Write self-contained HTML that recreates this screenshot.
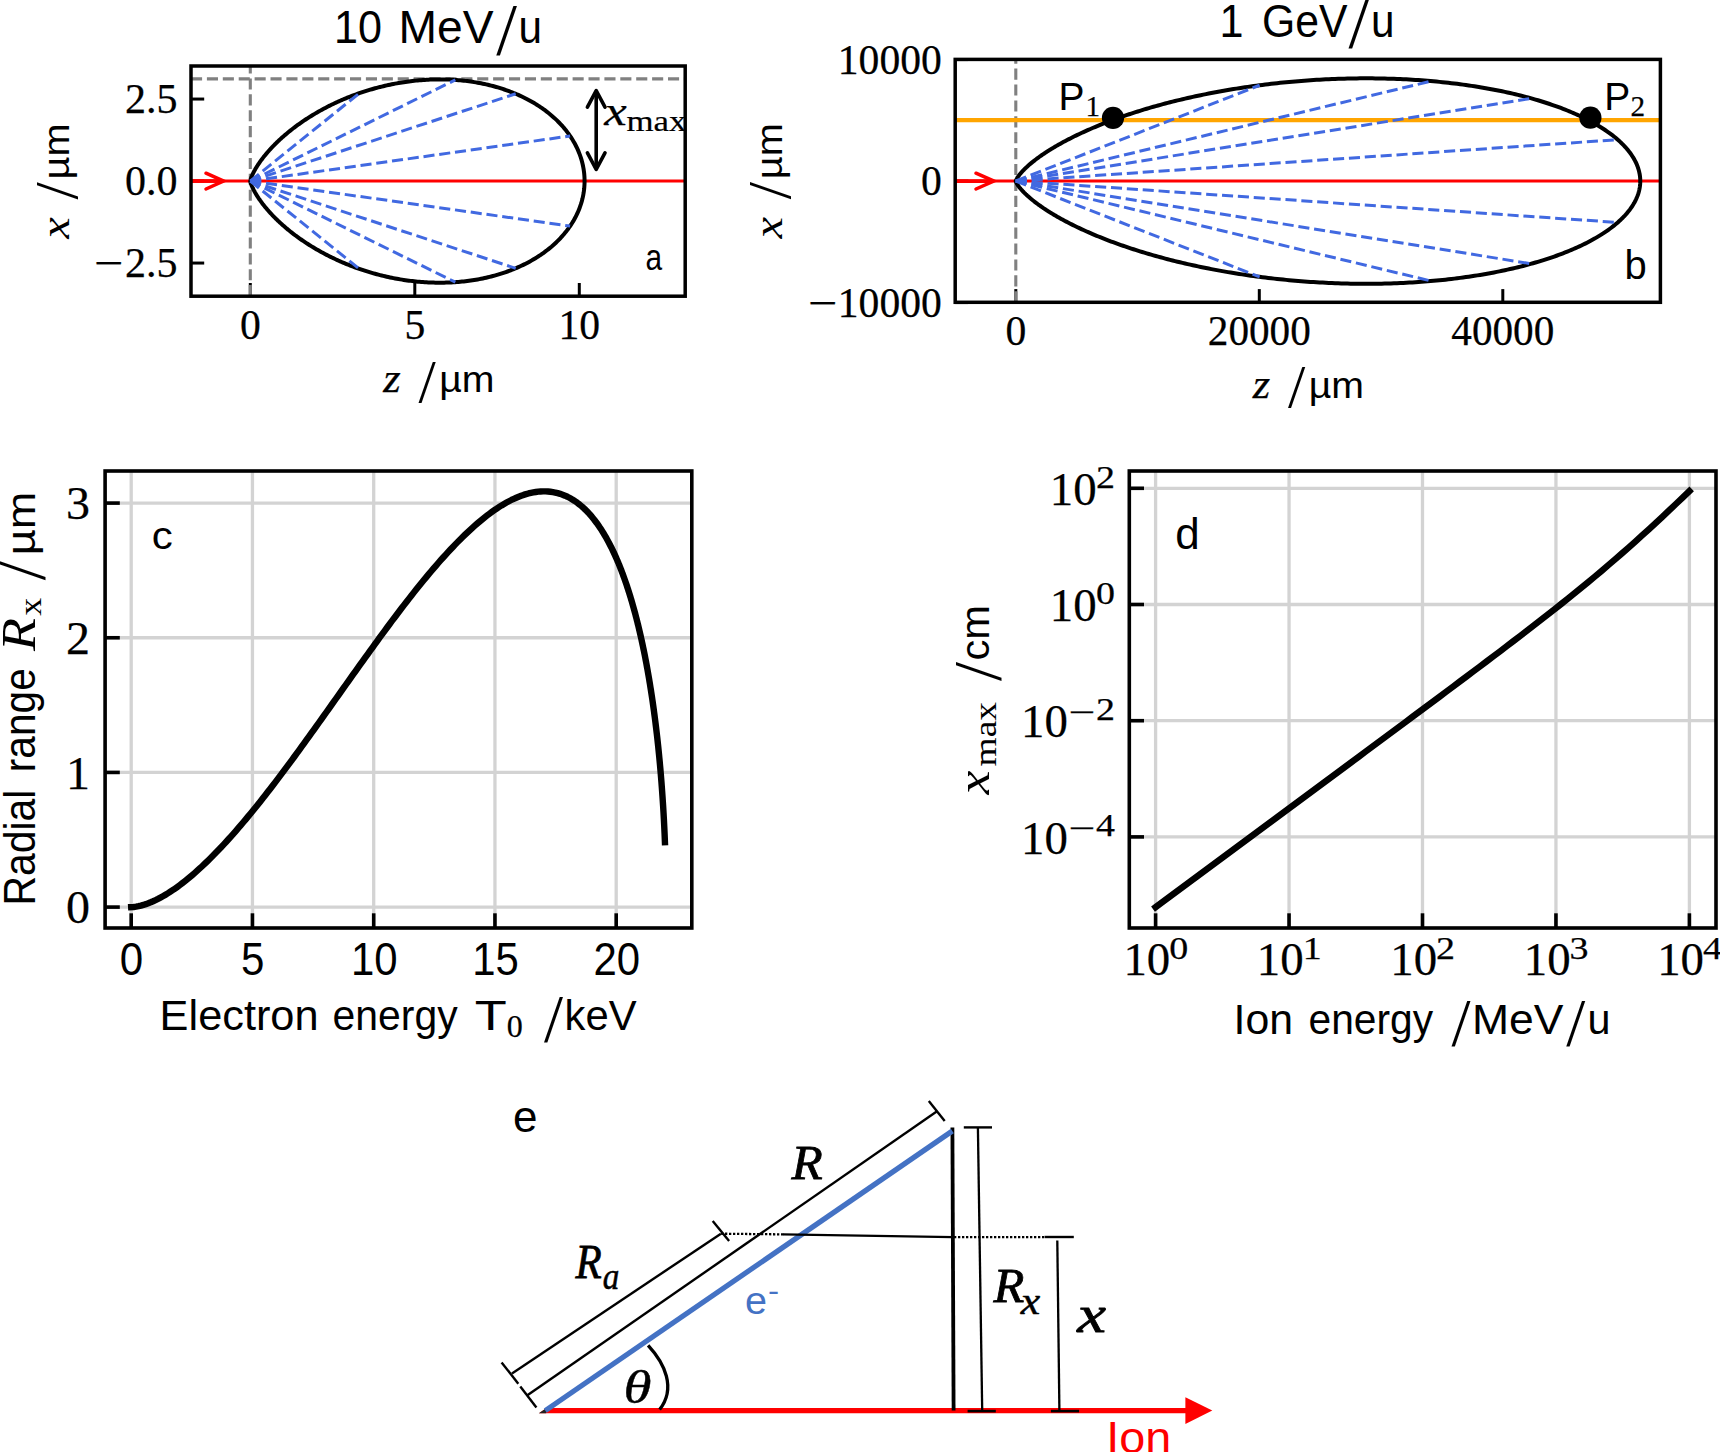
<!DOCTYPE html>
<html lang="en"><head><meta charset="utf-8"><title>Electron range envelope figure</title>
<style>html,body{margin:0;padding:0;background:#fff}svg{display:block}</style></head>
<body>
<svg width="1720" height="1452" viewBox="0 0 1720 1452">
<rect x="0" y="0" width="1720" height="1452" fill="#fff"/>
<g id="pa">
<line x1="191" y1="99.05" x2="204.2" y2="99.05" stroke="#000" stroke-width="3"/>
<line x1="191" y1="181.05" x2="204.2" y2="181.05" stroke="#000" stroke-width="3"/>
<line x1="191" y1="263.05" x2="204.2" y2="263.05" stroke="#000" stroke-width="3"/>
<line x1="250.3" y1="296.2" x2="250.3" y2="283" stroke="#000" stroke-width="3"/>
<line x1="414.8" y1="296.2" x2="414.8" y2="283" stroke="#000" stroke-width="3"/>
<line x1="579.3" y1="296.2" x2="579.3" y2="283" stroke="#000" stroke-width="3"/>
<line x1="250.3" y1="296.2" x2="250.3" y2="66" stroke="#808080" stroke-width="3.1" stroke-dasharray="11.1 4.8"/>
<line x1="191" y1="78.9" x2="685.2" y2="78.9" stroke="#808080" stroke-width="3.1" stroke-dasharray="11.1 4.8"/>
<line x1="191" y1="181.05" x2="685.2" y2="181.05" stroke="#FF0000" stroke-width="3.1"/>
<line x1="191" y1="181.05" x2="222" y2="181.05" stroke="#FF0000" stroke-width="3.8"/>
<path d="M206 173.2 L223.6 181.05 L206 189" fill="none" stroke="#FF0000" stroke-width="3.5" stroke-linejoin="miter" stroke-linecap="round"/>
<path d="M250.3 181.05 L250.3 181.05 L250.3 181.05 L250.3 181.05 L250.3 181.05 L250.3 181.05 L250.3 181.05 L250.3 181.05 L250.3 181.05 L250.3 181.05 L250.3 181.04 L250.3 181.04 L250.3 181.04 L250.3 181.04 L250.3 181.03 L250.3 181.03 L250.3 181.02 L250.3 181.02 L250.3 181.01 L250.3 181 L250.3 180.99 L250.31 180.98 L250.31 180.97 L250.31 180.96 L250.31 180.94 L250.31 180.93 L250.31 180.91 L250.32 180.89 L250.32 180.87 L250.32 180.84 L250.33 180.82 L250.33 180.79 L250.34 180.76 L250.34 180.73 L250.35 180.7 L250.35 180.66 L250.36 180.63 L250.37 180.58 L250.38 180.54 L250.39 180.49 L250.4 180.45 L250.41 180.39 L250.42 180.34 L250.43 180.28 L250.45 180.22 L250.46 180.15 L250.48 180.09 L250.5 180.01 L250.52 179.94 L250.54 179.86 L250.56 179.78 L250.58 179.69 L250.6 179.6 L250.63 179.51 L250.66 179.41 L250.69 179.31 L250.72 179.2 L250.75 179.09 L250.79 178.97 L250.83 178.85 L250.87 178.73 L250.91 178.6 L250.95 178.47 L251 178.33 L251.05 178.18 L251.1 178.03 L251.15 177.88 L251.21 177.72 L251.27 177.56 L251.33 177.39 L251.4 177.21 L251.47 177.03 L251.54 176.85 L251.62 176.66 L251.69 176.46 L251.78 176.26 L251.86 176.05 L251.95 175.84 L252.05 175.62 L252.14 175.39 L252.24 175.16 L252.35 174.93 L252.46 174.68 L252.57 174.43 L252.69 174.18 L252.81 173.92 L252.94 173.65 L253.07 173.37 L253.21 173.09 L253.35 172.81 L253.5 172.51 L253.65 172.21 L253.81 171.91 L253.97 171.6 L254.14 171.28 L254.32 170.95 L254.5 170.62 L254.68 170.28 L254.88 169.94 L255.07 169.59 L255.28 169.23 L255.49 168.86 L255.71 168.49 L255.93 168.11 L256.16 167.73 L256.4 167.34 L256.64 166.94 L256.89 166.54 L257.15 166.13 L257.42 165.71 L257.69 165.29 L257.97 164.86 L258.26 164.42 L258.55 163.97 L258.86 163.52 L259.17 163.07 L259.49 162.61 L259.82 162.14 L260.15 161.66 L260.5 161.18 L260.85 160.69 L261.21 160.19 L261.58 159.69 L261.96 159.19 L262.35 158.67 L262.74 158.15 L263.15 157.63 L263.57 157.1 L263.99 156.56 L264.43 156.02 L264.87 155.47 L265.32 154.91 L265.79 154.35 L266.26 153.78 L266.74 153.21 L267.24 152.63 L267.74 152.05 L268.25 151.46 L268.78 150.87 L269.31 150.27 L269.86 149.67 L270.41 149.06 L270.98 148.45 L271.56 147.83 L272.14 147.2 L272.74 146.58 L273.35 145.94 L273.98 145.31 L274.61 144.67 L275.25 144.02 L275.91 143.37 L276.57 142.72 L277.25 142.06 L277.94 141.4 L278.64 140.73 L279.35 140.07 L280.08 139.39 L280.81 138.72 L281.56 138.04 L282.32 137.36 L283.09 136.67 L283.88 135.99 L284.67 135.3 L285.48 134.61 L286.3 133.91 L287.14 133.21 L287.98 132.51 L288.84 131.81 L289.71 131.11 L290.59 130.41 L291.48 129.7 L292.39 128.99 L293.31 128.28 L294.24 127.57 L295.18 126.86 L296.14 126.15 L297.11 125.44 L298.09 124.73 L299.08 124.01 L300.09 123.3 L301.1 122.59 L302.14 121.87 L303.18 121.16 L304.23 120.45 L305.3 119.74 L306.38 119.03 L307.48 118.32 L308.58 117.61 L309.7 116.9 L310.83 116.19 L311.97 115.49 L313.13 114.79 L314.29 114.09 L315.47 113.39 L316.67 112.69 L317.87 112 L319.09 111.31 L320.31 110.62 L321.55 109.93 L322.81 109.25 L324.07 108.57 L325.34 107.9 L326.63 107.23 L327.93 106.56 L329.24 105.9 L330.56 105.24 L331.9 104.58 L333.24 103.93 L334.6 103.29 L335.97 102.65 L337.35 102.01 L338.74 101.38 L340.14 100.76 L341.55 100.14 L342.97 99.52 L344.4 98.92 L345.85 98.32 L347.3 97.72 L348.77 97.13 L350.24 96.55 L351.73 95.98 L353.22 95.41 L354.73 94.85 L356.24 94.3 L357.76 93.75 L359.3 93.22 L360.84 92.69 L362.39 92.16 L363.95 91.65 L365.52 91.15 L367.1 90.65 L368.69 90.16 L370.28 89.68 L371.89 89.21 L373.5 88.75 L375.12 88.3 L376.75 87.86 L378.38 87.42 L380.02 87 L381.67 86.59 L383.33 86.19 L385 85.79 L386.67 85.41 L388.34 85.04 L390.03 84.68 L391.72 84.33 L393.41 83.99 L395.12 83.66 L396.82 83.35 L398.54 83.04 L400.25 82.75 L401.98 82.46 L403.7 82.19 L405.44 81.93 L407.17 81.69 L408.92 81.45 L410.66 81.23 L412.41 81.02 L414.16 80.82 L415.92 80.63 L417.68 80.46 L419.44 80.3 L421.2 80.15 L422.97 80.02 L424.74 79.9 L426.51 79.79 L428.28 79.69 L430.06 79.61 L431.83 79.54 L433.61 79.49 L435.39 79.45 L437.16 79.42 L438.94 79.4 L440.72 79.4 L442.5 79.42 L444.28 79.45 L446.05 79.49 L447.83 79.54 L449.6 79.61 L451.38 79.7 L453.15 79.79 L454.92 79.91 L456.69 80.03 L458.46 80.17 L460.22 80.33 L461.98 80.5 L463.74 80.68 L465.49 80.88 L467.24 81.1 L468.99 81.32 L470.73 81.57 L472.47 81.82 L474.2 82.1 L475.93 82.38 L477.65 82.68 L479.37 83 L481.08 83.33 L482.79 83.67 L484.49 84.03 L486.18 84.41 L487.87 84.8 L489.55 85.2 L491.22 85.62 L492.89 86.05 L494.54 86.5 L496.19 86.96 L497.83 87.44 L499.47 87.93 L501.09 88.43 L502.71 88.95 L504.31 89.48 L505.91 90.03 L507.49 90.6 L509.07 91.17 L510.64 91.76 L512.19 92.37 L513.74 92.99 L515.27 93.62 L516.8 94.26 L518.31 94.93 L519.81 95.6 L521.3 96.29 L522.77 96.99 L524.24 97.7 L525.69 98.43 L527.13 99.17 L528.55 99.93 L529.96 100.7 L531.36 101.48 L532.74 102.27 L534.11 103.08 L535.47 103.9 L536.81 104.73 L538.14 105.57 L539.45 106.43 L540.75 107.3 L542.03 108.18 L543.3 109.07 L544.55 109.98 L545.78 110.9 L547 111.82 L548.2 112.76 L549.39 113.72 L550.55 114.68 L551.71 115.65 L552.84 116.64 L553.96 117.63 L555.06 118.64 L556.14 119.65 L557.2 120.68 L558.25 121.72 L559.28 122.76 L560.29 123.82 L561.28 124.89 L562.25 125.96 L563.21 127.05 L564.14 128.14 L565.05 129.24 L565.95 130.35 L566.83 131.47 L567.68 132.6 L568.52 133.74 L569.34 134.88 L570.13 136.04 L570.91 137.2 L571.67 138.37 L572.4 139.54 L573.12 140.72 L573.81 141.91 L574.49 143.11 L575.14 144.31 L575.77 145.52 L576.38 146.73 L576.97 147.95 L577.54 149.18 L578.08 150.41 L578.61 151.65 L579.11 152.89 L579.59 154.14 L580.05 155.39 L580.49 156.64 L580.91 157.9 L581.3 159.17 L581.67 160.43 L582.02 161.71 L582.35 162.98 L582.65 164.26 L582.93 165.54 L583.19 166.82 L583.43 168.11 L583.65 169.4 L583.84 170.69 L584.01 171.98 L584.16 173.27 L584.28 174.56 L584.38 175.86 L584.46 177.16 L584.52 178.45 L584.55 179.75 L584.56 181.05 L584.55 182.35 L584.52 183.65 L584.46 184.94 L584.38 186.24 L584.28 187.54 L584.16 188.83 L584.01 190.12 L583.84 191.41 L583.65 192.7 L583.43 193.99 L583.19 195.28 L582.93 196.56 L582.65 197.84 L582.35 199.12 L582.02 200.39 L581.67 201.67 L581.3 202.93 L580.91 204.2 L580.49 205.46 L580.05 206.71 L579.59 207.96 L579.11 209.21 L578.61 210.45 L578.08 211.69 L577.54 212.92 L576.97 214.15 L576.38 215.37 L575.77 216.58 L575.14 217.79 L574.49 218.99 L573.81 220.19 L573.12 221.38 L572.4 222.56 L571.67 223.73 L570.91 224.9 L570.13 226.06 L569.34 227.22 L568.52 228.36 L567.68 229.5 L566.83 230.63 L565.95 231.75 L565.05 232.86 L564.14 233.96 L563.21 235.05 L562.25 236.14 L561.28 237.21 L560.29 238.28 L559.28 239.34 L558.25 240.38 L557.2 241.42 L556.14 242.45 L555.06 243.46 L553.96 244.47 L552.84 245.46 L551.71 246.45 L550.55 247.42 L549.39 248.38 L548.2 249.34 L547 250.28 L545.78 251.2 L544.55 252.12 L543.3 253.03 L542.03 253.92 L540.75 254.8 L539.45 255.67 L538.14 256.53 L536.81 257.37 L535.47 258.2 L534.11 259.02 L532.74 259.83 L531.36 260.62 L529.96 261.4 L528.55 262.17 L527.13 262.93 L525.69 263.67 L524.24 264.4 L522.77 265.11 L521.3 265.81 L519.81 266.5 L518.31 267.17 L516.8 267.84 L515.27 268.48 L513.74 269.11 L512.19 269.73 L510.64 270.34 L509.07 270.93 L507.49 271.5 L505.91 272.07 L504.31 272.62 L502.71 273.15 L501.09 273.67 L499.47 274.17 L497.83 274.66 L496.19 275.14 L494.54 275.6 L492.89 276.05 L491.22 276.48 L489.55 276.9 L487.87 277.3 L486.18 277.69 L484.49 278.07 L482.79 278.43 L481.08 278.77 L479.37 279.1 L477.65 279.42 L475.93 279.72 L474.2 280 L472.47 280.28 L470.73 280.53 L468.99 280.78 L467.24 281 L465.49 281.22 L463.74 281.42 L461.98 281.6 L460.22 281.77 L458.46 281.93 L456.69 282.07 L454.92 282.19 L453.15 282.31 L451.38 282.4 L449.6 282.49 L447.83 282.56 L446.05 282.61 L444.28 282.65 L442.5 282.68 L440.72 282.7 L438.94 282.7 L437.16 282.68 L435.39 282.65 L433.61 282.61 L431.83 282.56 L430.06 282.49 L428.28 282.41 L426.51 282.31 L424.74 282.2 L422.97 282.08 L421.2 281.95 L419.44 281.8 L417.68 281.64 L415.92 281.47 L414.16 281.28 L412.41 281.08 L410.66 280.87 L408.92 280.65 L407.17 280.41 L405.44 280.17 L403.7 279.91 L401.98 279.64 L400.25 279.35 L398.54 279.06 L396.82 278.75 L395.12 278.44 L393.41 278.11 L391.72 277.77 L390.03 277.42 L388.34 277.06 L386.67 276.69 L385 276.31 L383.33 275.91 L381.67 275.51 L380.02 275.1 L378.38 274.68 L376.75 274.24 L375.12 273.8 L373.5 273.35 L371.89 272.89 L370.28 272.42 L368.69 271.94 L367.1 271.45 L365.52 270.95 L363.95 270.45 L362.39 269.94 L360.84 269.41 L359.3 268.88 L357.76 268.35 L356.24 267.8 L354.73 267.25 L353.22 266.69 L351.73 266.12 L350.24 265.55 L348.77 264.97 L347.3 264.38 L345.85 263.78 L344.4 263.18 L342.97 262.58 L341.55 261.96 L340.14 261.34 L338.74 260.72 L337.35 260.09 L335.97 259.45 L334.6 258.81 L333.24 258.17 L331.9 257.52 L330.56 256.86 L329.24 256.2 L327.93 255.54 L326.63 254.87 L325.34 254.2 L324.07 253.53 L322.81 252.85 L321.55 252.17 L320.31 251.48 L319.09 250.79 L317.87 250.1 L316.67 249.41 L315.47 248.71 L314.29 248.01 L313.13 247.31 L311.97 246.61 L310.83 245.91 L309.7 245.2 L308.58 244.49 L307.48 243.78 L306.38 243.07 L305.3 242.36 L304.23 241.65 L303.18 240.94 L302.14 240.23 L301.1 239.51 L300.09 238.8 L299.08 238.09 L298.09 237.37 L297.11 236.66 L296.14 235.95 L295.18 235.24 L294.24 234.53 L293.31 233.82 L292.39 233.11 L291.48 232.4 L290.59 231.69 L289.71 230.99 L288.84 230.29 L287.98 229.59 L287.14 228.89 L286.3 228.19 L285.48 227.49 L284.67 226.8 L283.88 226.11 L283.09 225.43 L282.32 224.74 L281.56 224.06 L280.81 223.38 L280.08 222.71 L279.35 222.03 L278.64 221.37 L277.94 220.7 L277.25 220.04 L276.57 219.38 L275.91 218.73 L275.25 218.08 L274.61 217.43 L273.98 216.79 L273.35 216.16 L272.74 215.52 L272.14 214.9 L271.56 214.27 L270.98 213.65 L270.41 213.04 L269.86 212.43 L269.31 211.83 L268.78 211.23 L268.25 210.64 L267.74 210.05 L267.24 209.47 L266.74 208.89 L266.26 208.32 L265.79 207.75 L265.32 207.19 L264.87 206.63 L264.43 206.08 L263.99 205.54 L263.57 205 L263.15 204.47 L262.74 203.95 L262.35 203.43 L261.96 202.91 L261.58 202.41 L261.21 201.91 L260.85 201.41 L260.5 200.92 L260.15 200.44 L259.82 199.96 L259.49 199.49 L259.17 199.03 L258.86 198.58 L258.55 198.13 L258.26 197.68 L257.97 197.24 L257.69 196.81 L257.42 196.39 L257.15 195.97 L256.89 195.56 L256.64 195.16 L256.4 194.76 L256.16 194.37 L255.93 193.99 L255.71 193.61 L255.49 193.24 L255.28 192.87 L255.07 192.51 L254.88 192.16 L254.68 191.82 L254.5 191.48 L254.32 191.15 L254.14 190.82 L253.97 190.5 L253.81 190.19 L253.65 189.89 L253.5 189.59 L253.35 189.29 L253.21 189.01 L253.07 188.73 L252.94 188.45 L252.81 188.18 L252.69 187.92 L252.57 187.67 L252.46 187.42 L252.35 187.17 L252.24 186.94 L252.14 186.71 L252.05 186.48 L251.95 186.26 L251.86 186.05 L251.78 185.84 L251.69 185.64 L251.62 185.44 L251.54 185.25 L251.47 185.07 L251.4 184.89 L251.33 184.71 L251.27 184.54 L251.21 184.38 L251.15 184.22 L251.1 184.07 L251.05 183.92 L251 183.77 L250.95 183.63 L250.91 183.5 L250.87 183.37 L250.83 183.25 L250.79 183.13 L250.75 183.01 L250.72 182.9 L250.69 182.79 L250.66 182.69 L250.63 182.59 L250.6 182.5 L250.58 182.41 L250.56 182.32 L250.54 182.24 L250.52 182.16 L250.5 182.09 L250.48 182.01 L250.46 181.95 L250.45 181.88 L250.43 181.82 L250.42 181.76 L250.41 181.71 L250.4 181.65 L250.39 181.61 L250.38 181.56 L250.37 181.52 L250.36 181.47 L250.35 181.44 L250.35 181.4 L250.34 181.37 L250.34 181.34 L250.33 181.31 L250.33 181.28 L250.32 181.26 L250.32 181.23 L250.32 181.21 L250.31 181.19 L250.31 181.17 L250.31 181.16 L250.31 181.14 L250.31 181.13 L250.31 181.12 L250.3 181.11 L250.3 181.1 L250.3 181.09 L250.3 181.08 L250.3 181.08 L250.3 181.07 L250.3 181.07 L250.3 181.06 L250.3 181.06 L250.3 181.06 L250.3 181.06 L250.3 181.05 L250.3 181.05 L250.3 181.05 L250.3 181.05 L250.3 181.05 L250.3 181.05 L250.3 181.05 L250.3 181.05 L250.3 181.05 L250.3 181.05" fill="none" stroke="#000" stroke-width="4" stroke-linejoin="miter" stroke-linecap="butt"/>
<line x1="250.3" y1="181.05" x2="359.41" y2="93.18" stroke="#4169E1" stroke-width="3" stroke-dasharray="11.1 4.8"/>
<line x1="250.3" y1="181.05" x2="359.41" y2="268.92" stroke="#4169E1" stroke-width="3" stroke-dasharray="11.1 4.8"/>
<line x1="250.3" y1="181.05" x2="455.33" y2="79.93" stroke="#4169E1" stroke-width="3" stroke-dasharray="11.1 4.8"/>
<line x1="250.3" y1="181.05" x2="455.33" y2="282.17" stroke="#4169E1" stroke-width="3" stroke-dasharray="11.1 4.8"/>
<line x1="250.3" y1="181.05" x2="515.69" y2="93.79" stroke="#4169E1" stroke-width="3" stroke-dasharray="11.1 4.8"/>
<line x1="250.3" y1="181.05" x2="515.69" y2="268.31" stroke="#4169E1" stroke-width="3" stroke-dasharray="11.1 4.8"/>
<line x1="250.3" y1="181.05" x2="570.1" y2="135.99" stroke="#4169E1" stroke-width="3" stroke-dasharray="11.1 4.8"/>
<line x1="250.3" y1="181.05" x2="570.1" y2="226.11" stroke="#4169E1" stroke-width="3" stroke-dasharray="11.1 4.8"/>
<rect x="191" y="66" width="494.2" height="230.2" fill="none" stroke="#000" stroke-width="3.5"/>
<line x1="596.2" y1="92" x2="596.2" y2="168" stroke="#000" stroke-width="3.6"/>
<path d="M587.4 107.2 L596.2 90.6 L605 107.2" fill="none" stroke="#000" stroke-width="3.6" stroke-linejoin="round" stroke-linecap="round"/>
<path d="M587.4 152.8 L596.2 169.4 L605 152.8" fill="none" stroke="#000" stroke-width="3.6" stroke-linejoin="round" stroke-linecap="round"/>
<text x="604.2" y="124.7" font-family='"Liberation Serif", "DejaVu Serif", serif' font-size="41.67" font-style="italic" textLength="22.5" lengthAdjust="spacingAndGlyphs" stroke="#000" stroke-width="0.25">x</text>
<text x="626.5" y="130.8" font-family='"Liberation Serif", "DejaVu Serif", serif' font-size="29.17" textLength="60" lengthAdjust="spacingAndGlyphs" stroke="#000" stroke-width="0.2">max</text>
<text x="177.6" y="112.95" font-family='"Liberation Serif", "DejaVu Serif", serif' font-size="41.67" text-anchor="end" textLength="52.5" lengthAdjust="spacingAndGlyphs" stroke="#000" stroke-width="0.25">2.5</text>
<text x="177.6" y="194.95" font-family='"Liberation Serif", "DejaVu Serif", serif' font-size="41.67" text-anchor="end" textLength="52.5" lengthAdjust="spacingAndGlyphs" stroke="#000" stroke-width="0.25">0.0</text>
<text x="177.6" y="276.95" font-family='"Liberation Serif", "DejaVu Serif", serif' font-size="41.67" text-anchor="end" textLength="52.5" lengthAdjust="spacingAndGlyphs" stroke="#000" stroke-width="0.25">2.5</text>
<text x="94" y="277" font-family='"Liberation Serif", "DejaVu Serif", serif' font-size="41.67" textLength="29.4" lengthAdjust="spacingAndGlyphs" stroke="#000" stroke-width="0.25">−</text>
<text x="250.3" y="338.8" font-family='"Liberation Serif", "DejaVu Serif", serif' font-size="41.67" text-anchor="middle" stroke="#000" stroke-width="0.25">0</text>
<text x="414.8" y="338.8" font-family='"Liberation Serif", "DejaVu Serif", serif' font-size="41.67" text-anchor="middle" stroke="#000" stroke-width="0.25">5</text>
<text x="579.3" y="338.8" font-family='"Liberation Serif", "DejaVu Serif", serif' font-size="41.67" text-anchor="middle" stroke="#000" stroke-width="0.25">10</text>
<text x="333.9" y="43.1" font-family='"Liberation Sans", "DejaVu Sans", sans-serif' font-size="47" textLength="48" lengthAdjust="spacingAndGlyphs">10</text>
<text x="398.6" y="43.1" font-family='"Liberation Sans", "DejaVu Sans", sans-serif' font-size="47" textLength="95" lengthAdjust="spacingAndGlyphs">MeV</text>
<text x="496.2" y="54.85" font-family='"Liberation Serif", "DejaVu Serif", serif' font-size="74.5">/</text>
<text x="518.5" y="43.1" font-family='"Liberation Sans", "DejaVu Sans", sans-serif' font-size="47" textLength="23.5" lengthAdjust="spacingAndGlyphs">u</text>
<text x="383.3" y="392.3" font-family='"Liberation Serif", "DejaVu Serif", serif' font-size="41.67" font-style="italic" textLength="17.5" lengthAdjust="spacingAndGlyphs" stroke="#000" stroke-width="0.25">z</text>
<text x="418.6" y="402.09" font-family='"Liberation Serif", "DejaVu Serif", serif' font-size="62.09">/</text>
<text x="439.2" y="392.3" font-family='"Liberation Sans", "DejaVu Sans", sans-serif' font-size="36.5" textLength="55.3" lengthAdjust="spacingAndGlyphs">µm</text>
<text transform="translate(68.8 238.7) rotate(-90)" font-family='"Liberation Serif", "DejaVu Serif", serif' font-size="41.67" font-style="italic" textLength="21.5" lengthAdjust="spacingAndGlyphs">x</text>
<text transform="translate(77.19 199.4) rotate(-90)" font-family='"Liberation Serif", "DejaVu Serif", serif' font-size="62.09">/</text>
<text transform="translate(68.8 179.4) rotate(-90)" font-family='"Liberation Sans", "DejaVu Sans", sans-serif' font-size="36.5" textLength="56" lengthAdjust="spacingAndGlyphs">µm</text>
<text x="645.6" y="270.2" font-family='"Liberation Sans", "DejaVu Sans", sans-serif' font-size="36" textLength="16.6" lengthAdjust="spacingAndGlyphs">a</text>
</g>
<g id="pb">
<line x1="955.2" y1="59.56" x2="968.4" y2="59.56" stroke="#000" stroke-width="3"/>
<line x1="955.2" y1="181.06" x2="968.4" y2="181.06" stroke="#000" stroke-width="3"/>
<line x1="955.2" y1="302.56" x2="968.4" y2="302.56" stroke="#000" stroke-width="3"/>
<line x1="1015.8" y1="302.3" x2="1015.8" y2="289.1" stroke="#000" stroke-width="3"/>
<line x1="1259.3" y1="302.3" x2="1259.3" y2="289.1" stroke="#000" stroke-width="3"/>
<line x1="1502.8" y1="302.3" x2="1502.8" y2="289.1" stroke="#000" stroke-width="3"/>
<line x1="1015.8" y1="302.3" x2="1015.8" y2="59.4" stroke="#808080" stroke-width="3.1" stroke-dasharray="11.1 4.8"/>
<line x1="955.2" y1="120.1" x2="1660.4" y2="120.1" stroke="#FFA500" stroke-width="4.2"/>
<line x1="955.2" y1="181.06" x2="1660.4" y2="181.06" stroke="#FF0000" stroke-width="3.1"/>
<line x1="955.2" y1="181.06" x2="992" y2="181.06" stroke="#FF0000" stroke-width="3.8"/>
<path d="M976 173.2 L993.9 181.06 L976 189" fill="none" stroke="#FF0000" stroke-width="3.5" stroke-linejoin="miter" stroke-linecap="round"/>
<path d="M1015.8 181.06 L1015.8 181.06 L1015.8 181.06 L1015.8 181.06 L1015.8 181.06 L1015.8 181.06 L1015.8 181.06 L1015.8 181.06 L1015.8 181.06 L1015.8 181.05 L1015.8 181.05 L1015.8 181.05 L1015.8 181.04 L1015.8 181.03 L1015.8 181.03 L1015.81 181.02 L1015.81 181.01 L1015.81 181 L1015.81 180.98 L1015.81 180.97 L1015.82 180.95 L1015.82 180.93 L1015.83 180.91 L1015.83 180.89 L1015.84 180.86 L1015.85 180.83 L1015.86 180.8 L1015.87 180.76 L1015.88 180.73 L1015.89 180.68 L1015.9 180.64 L1015.92 180.59 L1015.94 180.54 L1015.96 180.48 L1015.98 180.42 L1016 180.36 L1016.03 180.29 L1016.06 180.22 L1016.09 180.14 L1016.12 180.06 L1016.16 179.97 L1016.2 179.88 L1016.24 179.78 L1016.29 179.68 L1016.34 179.58 L1016.39 179.46 L1016.45 179.35 L1016.51 179.22 L1016.58 179.09 L1016.65 178.96 L1016.73 178.82 L1016.81 178.67 L1016.9 178.52 L1016.99 178.36 L1017.09 178.19 L1017.19 178.02 L1017.3 177.84 L1017.41 177.66 L1017.54 177.47 L1017.66 177.27 L1017.8 177.06 L1017.94 176.85 L1018.09 176.63 L1018.25 176.41 L1018.41 176.17 L1018.59 175.93 L1018.77 175.69 L1018.96 175.43 L1019.16 175.17 L1019.36 174.9 L1019.58 174.63 L1019.81 174.34 L1020.04 174.05 L1020.29 173.75 L1020.54 173.45 L1020.81 173.13 L1021.09 172.81 L1021.37 172.48 L1021.67 172.15 L1021.98 171.81 L1022.3 171.46 L1022.63 171.1 L1022.98 170.73 L1023.34 170.36 L1023.71 169.98 L1024.09 169.59 L1024.48 169.19 L1024.89 168.79 L1025.31 168.38 L1025.74 167.96 L1026.19 167.54 L1026.66 167.11 L1027.13 166.67 L1027.62 166.22 L1028.13 165.77 L1028.65 165.3 L1029.18 164.84 L1029.73 164.36 L1030.3 163.88 L1030.88 163.39 L1031.48 162.89 L1032.09 162.39 L1032.72 161.88 L1033.37 161.37 L1034.03 160.84 L1034.71 160.31 L1035.41 159.78 L1036.12 159.23 L1036.85 158.69 L1037.6 158.13 L1038.36 157.57 L1039.15 157 L1039.95 156.43 L1040.77 155.85 L1041.61 155.27 L1042.46 154.68 L1043.34 154.08 L1044.23 153.48 L1045.15 152.88 L1046.08 152.26 L1047.03 151.65 L1048 151.03 L1048.99 150.4 L1050 149.77 L1051.03 149.13 L1052.08 148.49 L1053.15 147.85 L1054.24 147.2 L1055.35 146.54 L1056.48 145.88 L1057.63 145.22 L1058.8 144.56 L1059.99 143.89 L1061.2 143.21 L1062.43 142.54 L1063.69 141.86 L1064.96 141.17 L1066.26 140.49 L1067.57 139.8 L1068.91 139.11 L1070.27 138.41 L1071.65 137.72 L1073.05 137.02 L1074.47 136.32 L1075.92 135.61 L1077.38 134.91 L1078.87 134.2 L1080.38 133.49 L1081.91 132.78 L1083.46 132.07 L1085.03 131.35 L1086.62 130.64 L1088.24 129.93 L1089.88 129.21 L1091.54 128.49 L1093.22 127.78 L1094.92 127.06 L1096.64 126.34 L1098.39 125.62 L1100.15 124.9 L1101.94 124.19 L1103.75 123.47 L1105.58 122.75 L1107.43 122.04 L1109.31 121.32 L1111.2 120.61 L1113.12 119.9 L1115.05 119.19 L1117.01 118.48 L1118.99 117.77 L1120.99 117.06 L1123.01 116.36 L1125.05 115.66 L1127.12 114.96 L1129.2 114.26 L1131.3 113.56 L1133.43 112.87 L1135.57 112.18 L1137.74 111.49 L1139.92 110.81 L1142.12 110.13 L1144.35 109.45 L1146.59 108.78 L1148.86 108.11 L1151.14 107.45 L1153.44 106.78 L1155.77 106.13 L1158.11 105.48 L1160.47 104.83 L1162.85 104.18 L1165.24 103.54 L1167.66 102.91 L1170.09 102.28 L1172.55 101.66 L1175.02 101.04 L1177.51 100.43 L1180.01 99.82 L1182.54 99.22 L1185.08 98.62 L1187.63 98.03 L1190.21 97.45 L1192.8 96.87 L1195.41 96.3 L1198.03 95.74 L1200.67 95.18 L1203.33 94.63 L1206 94.09 L1208.68 93.56 L1211.38 93.03 L1214.1 92.51 L1216.83 91.99 L1219.58 91.49 L1222.34 90.99 L1225.11 90.5 L1227.9 90.02 L1230.7 89.54 L1233.52 89.08 L1236.34 88.62 L1239.18 88.17 L1242.04 87.73 L1244.9 87.3 L1247.78 86.88 L1250.67 86.46 L1253.57 86.06 L1256.48 85.66 L1259.4 85.28 L1262.33 84.9 L1265.27 84.54 L1268.22 84.18 L1271.19 83.83 L1274.16 83.49 L1277.14 83.16 L1280.13 82.85 L1283.13 82.54 L1286.13 82.24 L1289.14 81.95 L1292.17 81.68 L1295.19 81.41 L1298.23 81.15 L1301.27 80.91 L1304.32 80.67 L1307.37 80.45 L1310.43 80.24 L1313.5 80.04 L1316.57 79.84 L1319.64 79.66 L1322.72 79.5 L1325.81 79.34 L1328.89 79.19 L1331.98 79.06 L1335.07 78.93 L1338.17 78.82 L1341.27 78.72 L1344.37 78.63 L1347.47 78.56 L1350.57 78.49 L1353.68 78.44 L1356.78 78.4 L1359.88 78.37 L1362.99 78.35 L1366.09 78.34 L1369.2 78.35 L1372.3 78.37 L1375.4 78.4 L1378.5 78.44 L1381.59 78.49 L1384.69 78.56 L1387.78 78.64 L1390.86 78.73 L1393.95 78.83 L1397.03 78.95 L1400.1 79.08 L1403.17 79.22 L1406.24 79.37 L1409.3 79.53 L1412.35 79.71 L1415.4 79.9 L1418.44 80.1 L1421.47 80.32 L1424.5 80.55 L1427.52 80.78 L1430.53 81.04 L1433.53 81.3 L1436.53 81.58 L1439.51 81.87 L1442.48 82.17 L1445.45 82.48 L1448.41 82.81 L1451.35 83.15 L1454.28 83.5 L1457.21 83.86 L1460.12 84.23 L1463.02 84.62 L1465.9 85.02 L1468.78 85.43 L1471.64 85.86 L1474.48 86.29 L1477.32 86.74 L1480.14 87.2 L1482.94 87.68 L1485.73 88.16 L1488.51 88.66 L1491.27 89.17 L1494.01 89.69 L1496.74 90.22 L1499.45 90.76 L1502.14 91.32 L1504.82 91.88 L1507.48 92.46 L1510.12 93.05 L1512.74 93.66 L1515.34 94.27 L1517.93 94.89 L1520.5 95.53 L1523.04 96.18 L1525.57 96.83 L1528.08 97.5 L1530.56 98.18 L1533.03 98.88 L1535.47 99.58 L1537.89 100.29 L1540.3 101.01 L1542.67 101.75 L1545.03 102.49 L1547.37 103.25 L1549.68 104.01 L1551.96 104.79 L1554.23 105.58 L1556.47 106.37 L1558.68 107.18 L1560.88 107.99 L1563.04 108.82 L1565.18 109.65 L1567.3 110.5 L1569.39 111.35 L1571.46 112.22 L1573.5 113.09 L1575.51 113.97 L1577.49 114.86 L1579.45 115.76 L1581.39 116.67 L1583.29 117.59 L1585.17 118.52 L1587.02 119.45 L1588.84 120.39 L1590.63 121.34 L1592.39 122.3 L1594.13 123.27 L1595.84 124.25 L1597.51 125.23 L1599.16 126.22 L1600.78 127.22 L1602.37 128.22 L1603.92 129.23 L1605.45 130.25 L1606.95 131.28 L1608.41 132.31 L1609.85 133.35 L1611.25 134.4 L1612.63 135.45 L1613.97 136.51 L1615.28 137.57 L1616.55 138.64 L1617.8 139.72 L1619.01 140.8 L1620.19 141.89 L1621.34 142.98 L1622.46 144.08 L1623.54 145.19 L1624.59 146.29 L1625.61 147.41 L1626.59 148.52 L1627.54 149.65 L1628.46 150.77 L1629.35 151.9 L1630.2 153.04 L1631.01 154.18 L1631.79 155.32 L1632.54 156.46 L1633.26 157.61 L1633.94 158.77 L1634.58 159.92 L1635.19 161.08 L1635.77 162.24 L1636.31 163.4 L1636.82 164.57 L1637.29 165.74 L1637.73 166.91 L1638.13 168.08 L1638.5 169.26 L1638.83 170.43 L1639.13 171.61 L1639.39 172.79 L1639.62 173.97 L1639.82 175.15 L1639.97 176.33 L1640.1 177.51 L1640.19 178.69 L1640.24 179.88 L1640.26 181.06 L1640.24 182.24 L1640.19 183.43 L1640.1 184.61 L1639.97 185.79 L1639.82 186.97 L1639.62 188.15 L1639.39 189.33 L1639.13 190.51 L1638.83 191.69 L1638.5 192.86 L1638.13 194.04 L1637.73 195.21 L1637.29 196.38 L1636.82 197.55 L1636.31 198.72 L1635.77 199.88 L1635.19 201.04 L1634.58 202.2 L1633.94 203.35 L1633.26 204.51 L1632.54 205.66 L1631.79 206.8 L1631.01 207.94 L1630.2 209.08 L1629.35 210.22 L1628.46 211.35 L1627.54 212.47 L1626.59 213.6 L1625.61 214.71 L1624.59 215.83 L1623.54 216.93 L1622.46 218.04 L1621.34 219.14 L1620.19 220.23 L1619.01 221.32 L1617.8 222.4 L1616.55 223.48 L1615.28 224.55 L1613.97 225.61 L1612.63 226.67 L1611.25 227.72 L1609.85 228.77 L1608.41 229.81 L1606.95 230.84 L1605.45 231.87 L1603.92 232.89 L1602.37 233.9 L1600.78 234.9 L1599.16 235.9 L1597.51 236.89 L1595.84 237.87 L1594.13 238.85 L1592.39 239.82 L1590.63 240.78 L1588.84 241.73 L1587.02 242.67 L1585.17 243.6 L1583.29 244.53 L1581.39 245.45 L1579.45 246.36 L1577.49 247.26 L1575.51 248.15 L1573.5 249.03 L1571.46 249.9 L1569.39 250.77 L1567.3 251.62 L1565.18 252.47 L1563.04 253.3 L1560.88 254.13 L1558.68 254.94 L1556.47 255.75 L1554.23 256.54 L1551.96 257.33 L1549.68 258.11 L1547.37 258.87 L1545.03 259.63 L1542.67 260.37 L1540.3 261.11 L1537.89 261.83 L1535.47 262.54 L1533.03 263.24 L1530.56 263.94 L1528.08 264.62 L1525.57 265.29 L1523.04 265.94 L1520.5 266.59 L1517.93 267.23 L1515.34 267.85 L1512.74 268.46 L1510.12 269.07 L1507.48 269.66 L1504.82 270.24 L1502.14 270.8 L1499.45 271.36 L1496.74 271.9 L1494.01 272.43 L1491.27 272.95 L1488.51 273.46 L1485.73 273.96 L1482.94 274.44 L1480.14 274.92 L1477.32 275.38 L1474.48 275.83 L1471.64 276.26 L1468.78 276.69 L1465.9 277.1 L1463.02 277.5 L1460.12 277.89 L1457.21 278.26 L1454.28 278.62 L1451.35 278.97 L1448.41 279.31 L1445.45 279.64 L1442.48 279.95 L1439.51 280.25 L1436.53 280.54 L1433.53 280.82 L1430.53 281.08 L1427.52 281.34 L1424.5 281.57 L1421.47 281.8 L1418.44 282.02 L1415.4 282.22 L1412.35 282.41 L1409.3 282.59 L1406.24 282.75 L1403.17 282.9 L1400.1 283.04 L1397.03 283.17 L1393.95 283.29 L1390.86 283.39 L1387.78 283.48 L1384.69 283.56 L1381.59 283.63 L1378.5 283.68 L1375.4 283.72 L1372.3 283.75 L1369.2 283.77 L1366.09 283.78 L1362.99 283.77 L1359.88 283.75 L1356.78 283.72 L1353.68 283.68 L1350.57 283.63 L1347.47 283.56 L1344.37 283.49 L1341.27 283.4 L1338.17 283.3 L1335.07 283.19 L1331.98 283.06 L1328.89 282.93 L1325.81 282.78 L1322.72 282.62 L1319.64 282.46 L1316.57 282.28 L1313.5 282.08 L1310.43 281.88 L1307.37 281.67 L1304.32 281.45 L1301.27 281.21 L1298.23 280.97 L1295.19 280.71 L1292.17 280.44 L1289.14 280.17 L1286.13 279.88 L1283.13 279.58 L1280.13 279.27 L1277.14 278.96 L1274.16 278.63 L1271.19 278.29 L1268.22 277.94 L1265.27 277.58 L1262.33 277.22 L1259.4 276.84 L1256.48 276.46 L1253.57 276.06 L1250.67 275.66 L1247.78 275.24 L1244.9 274.82 L1242.04 274.39 L1239.18 273.95 L1236.34 273.5 L1233.52 273.04 L1230.7 272.58 L1227.9 272.1 L1225.11 271.62 L1222.34 271.13 L1219.58 270.63 L1216.83 270.13 L1214.1 269.61 L1211.38 269.09 L1208.68 268.56 L1206 268.03 L1203.33 267.49 L1200.67 266.94 L1198.03 266.38 L1195.41 265.82 L1192.8 265.25 L1190.21 264.67 L1187.63 264.09 L1185.08 263.5 L1182.54 262.9 L1180.01 262.3 L1177.51 261.69 L1175.02 261.08 L1172.55 260.46 L1170.09 259.84 L1167.66 259.21 L1165.24 258.58 L1162.85 257.94 L1160.47 257.29 L1158.11 256.64 L1155.77 255.99 L1153.44 255.34 L1151.14 254.67 L1148.86 254.01 L1146.59 253.34 L1144.35 252.67 L1142.12 251.99 L1139.92 251.31 L1137.74 250.63 L1135.57 249.94 L1133.43 249.25 L1131.3 248.56 L1129.2 247.86 L1127.12 247.16 L1125.05 246.46 L1123.01 245.76 L1120.99 245.06 L1118.99 244.35 L1117.01 243.64 L1115.05 242.93 L1113.12 242.22 L1111.2 241.51 L1109.31 240.8 L1107.43 240.08 L1105.58 239.37 L1103.75 238.65 L1101.94 237.93 L1100.15 237.22 L1098.39 236.5 L1096.64 235.78 L1094.92 235.06 L1093.22 234.34 L1091.54 233.63 L1089.88 232.91 L1088.24 232.19 L1086.62 231.48 L1085.03 230.77 L1083.46 230.05 L1081.91 229.34 L1080.38 228.63 L1078.87 227.92 L1077.38 227.21 L1075.92 226.51 L1074.47 225.8 L1073.05 225.1 L1071.65 224.4 L1070.27 223.71 L1068.91 223.01 L1067.57 222.32 L1066.26 221.63 L1064.96 220.95 L1063.69 220.26 L1062.43 219.58 L1061.2 218.91 L1059.99 218.23 L1058.8 217.56 L1057.63 216.9 L1056.48 216.24 L1055.35 215.58 L1054.24 214.92 L1053.15 214.27 L1052.08 213.63 L1051.03 212.99 L1050 212.35 L1048.99 211.72 L1048 211.09 L1047.03 210.47 L1046.08 209.86 L1045.15 209.24 L1044.23 208.64 L1043.34 208.04 L1042.46 207.44 L1041.61 206.85 L1040.77 206.27 L1039.95 205.69 L1039.15 205.12 L1038.36 204.55 L1037.6 203.99 L1036.85 203.43 L1036.12 202.89 L1035.41 202.34 L1034.71 201.81 L1034.03 201.28 L1033.37 200.75 L1032.72 200.24 L1032.09 199.73 L1031.48 199.23 L1030.88 198.73 L1030.3 198.24 L1029.73 197.76 L1029.18 197.28 L1028.65 196.82 L1028.13 196.35 L1027.62 195.9 L1027.13 195.45 L1026.66 195.01 L1026.19 194.58 L1025.74 194.16 L1025.31 193.74 L1024.89 193.33 L1024.48 192.93 L1024.09 192.53 L1023.71 192.14 L1023.34 191.76 L1022.98 191.39 L1022.63 191.02 L1022.3 190.66 L1021.98 190.31 L1021.67 189.97 L1021.37 189.64 L1021.09 189.31 L1020.81 188.99 L1020.54 188.67 L1020.29 188.37 L1020.04 188.07 L1019.81 187.78 L1019.58 187.49 L1019.36 187.22 L1019.16 186.95 L1018.96 186.69 L1018.77 186.43 L1018.59 186.19 L1018.41 185.95 L1018.25 185.71 L1018.09 185.49 L1017.94 185.27 L1017.8 185.06 L1017.66 184.85 L1017.54 184.65 L1017.41 184.46 L1017.3 184.28 L1017.19 184.1 L1017.09 183.93 L1016.99 183.76 L1016.9 183.6 L1016.81 183.45 L1016.73 183.3 L1016.65 183.16 L1016.58 183.03 L1016.51 182.9 L1016.45 182.77 L1016.39 182.66 L1016.34 182.54 L1016.29 182.44 L1016.24 182.34 L1016.2 182.24 L1016.16 182.15 L1016.12 182.06 L1016.09 181.98 L1016.06 181.9 L1016.03 181.83 L1016 181.76 L1015.98 181.7 L1015.96 181.64 L1015.94 181.58 L1015.92 181.53 L1015.9 181.48 L1015.89 181.44 L1015.88 181.39 L1015.87 181.36 L1015.86 181.32 L1015.85 181.29 L1015.84 181.26 L1015.83 181.23 L1015.83 181.21 L1015.82 181.19 L1015.82 181.17 L1015.81 181.15 L1015.81 181.14 L1015.81 181.12 L1015.81 181.11 L1015.81 181.1 L1015.8 181.09 L1015.8 181.09 L1015.8 181.08 L1015.8 181.07 L1015.8 181.07 L1015.8 181.07 L1015.8 181.06 L1015.8 181.06 L1015.8 181.06 L1015.8 181.06 L1015.8 181.06 L1015.8 181.06 L1015.8 181.06 L1015.8 181.06 L1015.8 181.06" fill="none" stroke="#000" stroke-width="4" stroke-linejoin="miter" stroke-linecap="butt"/>
<line x1="1015.8" y1="181.06" x2="1259.61" y2="85.25" stroke="#4169E1" stroke-width="3" stroke-dasharray="11.1 4.8"/>
<line x1="1015.8" y1="181.06" x2="1259.61" y2="276.87" stroke="#4169E1" stroke-width="3" stroke-dasharray="11.1 4.8"/>
<line x1="1015.8" y1="181.06" x2="1431.21" y2="81.1" stroke="#4169E1" stroke-width="3" stroke-dasharray="11.1 4.8"/>
<line x1="1015.8" y1="181.06" x2="1431.21" y2="281.02" stroke="#4169E1" stroke-width="3" stroke-dasharray="11.1 4.8"/>
<line x1="1015.8" y1="181.06" x2="1531.23" y2="98.37" stroke="#4169E1" stroke-width="3" stroke-dasharray="11.1 4.8"/>
<line x1="1015.8" y1="181.06" x2="1531.23" y2="263.75" stroke="#4169E1" stroke-width="3" stroke-dasharray="11.1 4.8"/>
<line x1="1015.8" y1="181.06" x2="1617.75" y2="139.67" stroke="#4169E1" stroke-width="3" stroke-dasharray="11.1 4.8"/>
<line x1="1015.8" y1="181.06" x2="1617.75" y2="222.45" stroke="#4169E1" stroke-width="3" stroke-dasharray="11.1 4.8"/>
<rect x="955.2" y="59.4" width="705.2" height="242.9" fill="none" stroke="#000" stroke-width="3.5"/>
<circle cx="1113" cy="117.9" r="11.1" fill="#000"/>
<circle cx="1590.4" cy="117.7" r="11.1" fill="#000"/>
<text x="1058.4" y="109.9" font-family='"Liberation Sans", "DejaVu Sans", sans-serif' font-size="39.5" textLength="26" lengthAdjust="spacingAndGlyphs">P</text>
<text x="1085.5" y="116" font-family='"Liberation Serif", "DejaVu Serif", serif' font-size="29.17" stroke="#000" stroke-width="0.25">1</text>
<text x="1604.3" y="109.9" font-family='"Liberation Sans", "DejaVu Sans", sans-serif' font-size="39.5" textLength="26" lengthAdjust="spacingAndGlyphs">P</text>
<text x="1630.5" y="116" font-family='"Liberation Serif", "DejaVu Serif", serif' font-size="29.17" stroke="#000" stroke-width="0.25">2</text>
<text x="941.8" y="73.6" font-family='"Liberation Serif", "DejaVu Serif", serif' font-size="41.67" text-anchor="end" textLength="104" lengthAdjust="spacingAndGlyphs" stroke="#000" stroke-width="0.25">10000</text>
<text x="941.8" y="194.96" font-family='"Liberation Serif", "DejaVu Serif", serif' font-size="41.67" text-anchor="end" stroke="#000" stroke-width="0.25">0</text>
<text x="941.8" y="316.8" font-family='"Liberation Serif", "DejaVu Serif", serif' font-size="41.67" text-anchor="end" textLength="104" lengthAdjust="spacingAndGlyphs" stroke="#000" stroke-width="0.25">10000</text>
<text x="808" y="316.8" font-family='"Liberation Serif", "DejaVu Serif", serif' font-size="41.67" textLength="29.4" lengthAdjust="spacingAndGlyphs" stroke="#000" stroke-width="0.25">−</text>
<text x="1015.8" y="344.8" font-family='"Liberation Serif", "DejaVu Serif", serif' font-size="41.67" text-anchor="middle" stroke="#000" stroke-width="0.25">0</text>
<text x="1259.3" y="344.8" font-family='"Liberation Serif", "DejaVu Serif", serif' font-size="41.67" text-anchor="middle" textLength="103" lengthAdjust="spacingAndGlyphs" stroke="#000" stroke-width="0.25">20000</text>
<text x="1502.8" y="344.8" font-family='"Liberation Serif", "DejaVu Serif", serif' font-size="41.67" text-anchor="middle" textLength="103" lengthAdjust="spacingAndGlyphs" stroke="#000" stroke-width="0.25">40000</text>
<text x="1219.5" y="36.6" font-family='"Liberation Sans", "DejaVu Sans", sans-serif' font-size="47" textLength="24" lengthAdjust="spacingAndGlyphs">1</text>
<text x="1262" y="36.6" font-family='"Liberation Sans", "DejaVu Sans", sans-serif' font-size="47" textLength="85.5" lengthAdjust="spacingAndGlyphs">GeV</text>
<text x="1348.5" y="48.35" font-family='"Liberation Serif", "DejaVu Serif", serif' font-size="74.5">/</text>
<text x="1371" y="36.6" font-family='"Liberation Sans", "DejaVu Sans", sans-serif' font-size="47" textLength="23.5" lengthAdjust="spacingAndGlyphs">u</text>
<text x="1252.8" y="397.7" font-family='"Liberation Serif", "DejaVu Serif", serif' font-size="41.67" font-style="italic" textLength="17.5" lengthAdjust="spacingAndGlyphs" stroke="#000" stroke-width="0.25">z</text>
<text x="1288.1" y="407.49" font-family='"Liberation Serif", "DejaVu Serif", serif' font-size="62.09">/</text>
<text x="1308.7" y="397.7" font-family='"Liberation Sans", "DejaVu Sans", sans-serif' font-size="36.5" textLength="55.3" lengthAdjust="spacingAndGlyphs">µm</text>
<text transform="translate(781.9 238.5) rotate(-90)" font-family='"Liberation Serif", "DejaVu Serif", serif' font-size="41.67" font-style="italic" textLength="21.5" lengthAdjust="spacingAndGlyphs">x</text>
<text transform="translate(790.29 199.2) rotate(-90)" font-family='"Liberation Serif", "DejaVu Serif", serif' font-size="62.09">/</text>
<text transform="translate(781.9 179.2) rotate(-90)" font-family='"Liberation Sans", "DejaVu Sans", sans-serif' font-size="36.5" textLength="56" lengthAdjust="spacingAndGlyphs">µm</text>
<text x="1624.4" y="278.6" font-family='"Liberation Sans", "DejaVu Sans", sans-serif' font-size="40">b</text>
</g>
<g id="pc">
<line x1="131.2" y1="471" x2="131.2" y2="928" stroke="#D3D3D3" stroke-width="3.3"/>
<line x1="252.45" y1="471" x2="252.45" y2="928" stroke="#D3D3D3" stroke-width="3.3"/>
<line x1="373.7" y1="471" x2="373.7" y2="928" stroke="#D3D3D3" stroke-width="3.3"/>
<line x1="494.95" y1="471" x2="494.95" y2="928" stroke="#D3D3D3" stroke-width="3.3"/>
<line x1="616.2" y1="471" x2="616.2" y2="928" stroke="#D3D3D3" stroke-width="3.3"/>
<line x1="105.1" y1="907.1" x2="691.8" y2="907.1" stroke="#D3D3D3" stroke-width="3.3"/>
<line x1="105.1" y1="772.43" x2="691.8" y2="772.43" stroke="#D3D3D3" stroke-width="3.3"/>
<line x1="105.1" y1="637.76" x2="691.8" y2="637.76" stroke="#D3D3D3" stroke-width="3.3"/>
<line x1="105.1" y1="503.09" x2="691.8" y2="503.09" stroke="#D3D3D3" stroke-width="3.3"/>
<line x1="131.2" y1="928" x2="131.2" y2="913.3" stroke="#000" stroke-width="3.6"/>
<line x1="252.45" y1="928" x2="252.45" y2="913.3" stroke="#000" stroke-width="3.6"/>
<line x1="373.7" y1="928" x2="373.7" y2="913.3" stroke="#000" stroke-width="3.6"/>
<line x1="494.95" y1="928" x2="494.95" y2="913.3" stroke="#000" stroke-width="3.6"/>
<line x1="616.2" y1="928" x2="616.2" y2="913.3" stroke="#000" stroke-width="3.6"/>
<line x1="105.1" y1="907.1" x2="119.8" y2="907.1" stroke="#000" stroke-width="3.6"/>
<line x1="105.1" y1="772.43" x2="119.8" y2="772.43" stroke="#000" stroke-width="3.6"/>
<line x1="105.1" y1="637.76" x2="119.8" y2="637.76" stroke="#000" stroke-width="3.6"/>
<line x1="105.1" y1="503.09" x2="119.8" y2="503.09" stroke="#000" stroke-width="3.6"/>
<path d="M131.2 907.1 L133.64 906.96 L136.07 906.64 L138.51 906.18 L140.95 905.61 L143.39 904.93 L145.82 904.14 L148.26 903.27 L150.7 902.3 L153.13 901.25 L155.57 900.12 L158.01 898.92 L160.45 897.63 L162.88 896.28 L165.32 894.86 L167.76 893.37 L170.19 891.82 L172.63 890.2 L175.07 888.52 L177.51 886.78 L179.94 884.99 L182.38 883.14 L184.82 881.23 L187.26 879.27 L189.69 877.26 L192.13 875.2 L194.57 873.09 L197 870.94 L199.44 868.73 L201.88 866.48 L204.32 864.19 L206.75 861.85 L209.19 859.47 L211.63 857.05 L214.06 854.59 L216.5 852.09 L218.94 849.55 L221.38 846.97 L223.81 844.36 L226.25 841.71 L228.69 839.02 L231.12 836.31 L233.56 833.56 L236 830.78 L238.44 827.96 L240.87 825.12 L243.31 822.25 L245.75 819.34 L248.18 816.42 L250.62 813.46 L253.06 810.48 L255.5 807.47 L257.93 804.44 L260.37 801.38 L262.81 798.3 L265.25 795.2 L267.68 792.07 L270.12 788.93 L272.56 785.76 L274.99 782.58 L277.43 779.38 L279.87 776.15 L282.31 772.92 L284.74 769.66 L287.18 766.39 L289.62 763.11 L292.05 759.81 L294.49 756.49 L296.93 753.16 L299.37 749.83 L301.8 746.48 L304.24 743.11 L306.68 739.74 L309.11 736.36 L311.55 732.97 L313.99 729.58 L316.43 726.17 L318.86 722.76 L321.3 719.34 L323.74 715.92 L326.17 712.5 L328.61 709.07 L331.05 705.63 L333.49 702.2 L335.92 698.76 L338.36 695.32 L340.8 691.88 L343.24 688.45 L345.67 685.01 L348.11 681.58 L350.55 678.15 L352.98 674.72 L355.42 671.29 L357.86 667.88 L360.3 664.46 L362.73 661.06 L365.17 657.66 L367.61 654.27 L370.04 650.88 L372.48 647.51 L374.92 644.15 L377.36 640.8 L379.79 637.46 L382.23 634.13 L384.67 630.82 L387.1 627.52 L389.54 624.23 L391.98 620.96 L394.42 617.71 L396.85 614.48 L399.29 611.26 L401.73 608.06 L404.16 604.89 L406.6 601.73 L409.04 598.6 L411.48 595.48 L413.91 592.39 L416.35 589.33 L418.79 586.29 L421.23 583.28 L423.66 580.29 L426.1 577.34 L428.54 574.41 L430.97 571.51 L433.41 568.64 L435.85 565.81 L438.29 563 L440.72 560.23 L443.16 557.5 L445.6 554.8 L448.03 552.14 L450.47 549.52 L452.91 546.94 L455.35 544.39 L457.78 541.89 L460.22 539.43 L462.66 537.02 L465.09 534.65 L467.53 532.33 L469.97 530.05 L472.41 527.82 L474.84 525.65 L477.28 523.52 L479.72 521.45 L482.15 519.43 L484.59 517.47 L487.03 515.56 L489.47 513.72 L491.9 511.93 L494.34 510.2 L496.78 508.54 L499.22 506.94 L501.65 505.41 L504.09 503.95 L506.53 502.55 L508.96 501.23 L511.4 499.98 L513.84 498.81 L516.28 497.71 L518.71 496.7 L521.15 495.76 L523.59 494.91 L526.02 494.14 L528.46 493.46 L530.9 492.87 L533.34 492.38 L535.77 491.98 L538.21 491.67 L540.65 491.47 L543.08 491.37 L545.52 491.38 L547.96 491.5 L550.4 491.73 L552.83 492.07 L555.27 492.54 L557.71 493.12 L560.14 493.84 L562.58 494.68 L565.02 495.66 L567.46 496.77 L569.89 498.03 L572.33 499.44 L574.77 501 L577.21 502.72 L579.64 504.61 L582.08 506.66 L584.52 508.89 L586.95 511.31 L589.39 513.91 L591.83 516.72 L594.27 519.73 L596.7 522.96 L599.14 526.41 L601.58 530.09 L604.01 534.03 L606.45 538.22 L608.89 542.69 L611.33 547.44 L613.76 552.5 L616.2 557.88 L616.55 558.68 L616.9 559.49 L617.25 560.31 L617.6 561.13 L617.95 561.96 L618.3 562.8 L618.65 563.65 L619 564.5 L619.36 565.36 L619.71 566.23 L620.06 567.1 L620.41 567.99 L620.76 568.88 L621.11 569.78 L621.46 570.69 L621.81 571.6 L622.16 572.53 L622.51 573.46 L622.86 574.4 L623.21 575.35 L623.56 576.31 L623.91 577.28 L624.26 578.25 L624.61 579.24 L624.96 580.23 L625.31 581.23 L625.67 582.24 L626.02 583.26 L626.37 584.29 L626.72 585.33 L627.07 586.38 L627.42 587.44 L627.77 588.51 L628.12 589.59 L628.47 590.68 L628.82 591.78 L629.17 592.89 L629.52 594.01 L629.87 595.14 L630.22 596.28 L630.57 597.43 L630.92 598.59 L631.27 599.76 L631.62 600.95 L631.98 602.14 L632.33 603.35 L632.68 604.57 L633.03 605.8 L633.38 607.05 L633.73 608.3 L634.08 609.57 L634.43 610.85 L634.78 612.14 L635.13 613.45 L635.48 614.77 L635.83 616.1 L636.18 617.45 L636.53 618.81 L636.88 620.18 L637.23 621.57 L637.58 622.97 L637.93 624.39 L638.29 625.82 L638.64 627.26 L638.99 628.73 L639.34 630.2 L639.69 631.7 L640.04 633.21 L640.39 634.73 L640.74 636.27 L641.09 637.83 L641.44 639.41 L641.79 641.01 L642.14 642.62 L642.49 644.25 L642.84 645.9 L643.19 647.57 L643.54 649.26 L643.89 650.97 L644.24 652.69 L644.6 654.44 L644.95 656.22 L645.3 658.01 L645.65 659.82 L646 661.66 L646.35 663.52 L646.7 665.41 L647.05 667.32 L647.4 669.25 L647.75 671.21 L648.1 673.2 L648.45 675.21 L648.8 677.25 L649.15 679.32 L649.5 681.42 L649.85 683.55 L650.2 685.71 L650.55 687.9 L650.91 690.13 L651.26 692.39 L651.61 694.68 L651.96 697.02 L652.31 699.38 L652.66 701.79 L653.01 704.24 L653.36 706.73 L653.71 709.27 L654.06 711.85 L654.41 714.47 L654.76 717.15 L655.11 719.88 L655.46 722.66 L655.81 725.49 L656.16 728.39 L656.51 731.35 L656.87 734.37 L657.22 737.46 L657.57 740.62 L657.92 743.86 L658.27 747.18 L658.62 750.59 L658.97 754.09 L659.32 757.69 L659.67 761.39 L660.02 765.21 L660.37 769.15 L660.72 773.23 L661.07 777.46 L661.42 781.85 L661.77 786.41 L662.12 791.19 L662.47 796.18 L662.82 801.44 L663.18 807.01 L663.53 812.92 L663.88 819.27 L664.23 826.14 L664.58 833.68 L664.93 842.14" fill="none" stroke="#000" stroke-width="6.4" stroke-linejoin="round" stroke-linecap="square"/>
<rect x="105.1" y="471" width="586.7" height="457" fill="none" stroke="#000" stroke-width="3.6"/>
<text x="90" y="923.4" font-family='"Liberation Serif", "DejaVu Serif", serif' font-size="45.83" text-anchor="end" textLength="24" lengthAdjust="spacingAndGlyphs" stroke="#000" stroke-width="0.25">0</text>
<text x="90" y="788.73" font-family='"Liberation Serif", "DejaVu Serif", serif' font-size="45.83" text-anchor="end" textLength="24" lengthAdjust="spacingAndGlyphs" stroke="#000" stroke-width="0.25">1</text>
<text x="90" y="654.06" font-family='"Liberation Serif", "DejaVu Serif", serif' font-size="45.83" text-anchor="end" textLength="24" lengthAdjust="spacingAndGlyphs" stroke="#000" stroke-width="0.25">2</text>
<text x="90" y="519.39" font-family='"Liberation Serif", "DejaVu Serif", serif' font-size="45.83" text-anchor="end" textLength="24" lengthAdjust="spacingAndGlyphs" stroke="#000" stroke-width="0.25">3</text>
<text x="131.4" y="974.9" font-family='"Liberation Sans", "DejaVu Sans", sans-serif' font-size="45.5" text-anchor="middle" textLength="23.4" lengthAdjust="spacingAndGlyphs">0</text>
<text x="252.65" y="974.9" font-family='"Liberation Sans", "DejaVu Sans", sans-serif' font-size="45.5" text-anchor="middle" textLength="23.4" lengthAdjust="spacingAndGlyphs">5</text>
<text x="374.2" y="974.9" font-family='"Liberation Sans", "DejaVu Sans", sans-serif' font-size="45.5" text-anchor="middle" textLength="46.6" lengthAdjust="spacingAndGlyphs">10</text>
<text x="495.45" y="974.9" font-family='"Liberation Sans", "DejaVu Sans", sans-serif' font-size="45.5" text-anchor="middle" textLength="46.6" lengthAdjust="spacingAndGlyphs">15</text>
<text x="616.7" y="974.9" font-family='"Liberation Sans", "DejaVu Sans", sans-serif' font-size="45.5" text-anchor="middle" textLength="46.6" lengthAdjust="spacingAndGlyphs">20</text>
<text x="159.6" y="1030.1" font-family='"Liberation Sans", "DejaVu Sans", sans-serif' font-size="42.5" textLength="159" lengthAdjust="spacingAndGlyphs">Electron</text>
<text x="332.6" y="1030.1" font-family='"Liberation Sans", "DejaVu Sans", sans-serif' font-size="42.5" textLength="125" lengthAdjust="spacingAndGlyphs">energy</text>
<text x="474.8" y="1030.1" font-family='"Liberation Sans", "DejaVu Sans", sans-serif' font-size="42.5" textLength="32" lengthAdjust="spacingAndGlyphs">T</text>
<text x="506.8" y="1036.7" font-family='"Liberation Serif", "DejaVu Serif", serif' font-size="32.08" stroke="#000" stroke-width="0.25">0</text>
<text x="543.9" y="1040.87" font-family='"Liberation Serif", "DejaVu Serif", serif' font-size="68.29">/</text>
<text x="564.6" y="1030.1" font-family='"Liberation Sans", "DejaVu Sans", sans-serif' font-size="42.5" textLength="72" lengthAdjust="spacingAndGlyphs">keV</text>
<text transform="translate(35.2 905.6) rotate(-90)" font-family='"Liberation Sans", "DejaVu Sans", sans-serif' font-size="44" textLength="116" lengthAdjust="spacingAndGlyphs">Radial</text>
<text transform="translate(35.2 772.2) rotate(-90)" font-family='"Liberation Sans", "DejaVu Sans", sans-serif' font-size="44" textLength="104" lengthAdjust="spacingAndGlyphs">range</text>
<text transform="translate(35.2 651) rotate(-90)" font-family='"Liberation Serif", "DejaVu Serif", serif' font-size="49" font-style="italic" textLength="33" lengthAdjust="spacingAndGlyphs">R</text>
<text transform="translate(41 615.7) rotate(-90)" font-family='"Liberation Serif", "DejaVu Serif", serif' font-size="32.08" textLength="18" lengthAdjust="spacingAndGlyphs">x</text>
<text transform="translate(43.97 580.3) rotate(-90)" font-family='"Liberation Serif", "DejaVu Serif", serif' font-size="68.29">/</text>
<text transform="translate(35.2 555.2) rotate(-90)" font-family='"Liberation Sans", "DejaVu Sans", sans-serif' font-size="40.5" textLength="63.5" lengthAdjust="spacingAndGlyphs">µm</text>
<text x="151.8" y="549" font-family='"Liberation Sans", "DejaVu Sans", sans-serif' font-size="39" textLength="21" lengthAdjust="spacingAndGlyphs">c</text>
</g>
<g id="pd">
<line x1="1155.6" y1="471" x2="1155.6" y2="928" stroke="#D3D3D3" stroke-width="3.3"/>
<line x1="1289.05" y1="471" x2="1289.05" y2="928" stroke="#D3D3D3" stroke-width="3.3"/>
<line x1="1422.5" y1="471" x2="1422.5" y2="928" stroke="#D3D3D3" stroke-width="3.3"/>
<line x1="1555.95" y1="471" x2="1555.95" y2="928" stroke="#D3D3D3" stroke-width="3.3"/>
<line x1="1689.4" y1="471" x2="1689.4" y2="928" stroke="#D3D3D3" stroke-width="3.3"/>
<line x1="1129.3" y1="488.3" x2="1716" y2="488.3" stroke="#D3D3D3" stroke-width="3.3"/>
<line x1="1129.3" y1="604.5" x2="1716" y2="604.5" stroke="#D3D3D3" stroke-width="3.3"/>
<line x1="1129.3" y1="720.7" x2="1716" y2="720.7" stroke="#D3D3D3" stroke-width="3.3"/>
<line x1="1129.3" y1="836.9" x2="1716" y2="836.9" stroke="#D3D3D3" stroke-width="3.3"/>
<line x1="1155.6" y1="928" x2="1155.6" y2="913.3" stroke="#000" stroke-width="3.6"/>
<line x1="1289.05" y1="928" x2="1289.05" y2="913.3" stroke="#000" stroke-width="3.6"/>
<line x1="1422.5" y1="928" x2="1422.5" y2="913.3" stroke="#000" stroke-width="3.6"/>
<line x1="1555.95" y1="928" x2="1555.95" y2="913.3" stroke="#000" stroke-width="3.6"/>
<line x1="1689.4" y1="928" x2="1689.4" y2="913.3" stroke="#000" stroke-width="3.6"/>
<line x1="1129.3" y1="488.3" x2="1144" y2="488.3" stroke="#000" stroke-width="3.6"/>
<line x1="1129.3" y1="604.5" x2="1144" y2="604.5" stroke="#000" stroke-width="3.6"/>
<line x1="1129.3" y1="720.7" x2="1144" y2="720.7" stroke="#000" stroke-width="3.6"/>
<line x1="1129.3" y1="836.9" x2="1144" y2="836.9" stroke="#000" stroke-width="3.6"/>
<path d="M1155.6 907.15 L1162.36 902.15 L1169.11 897.15 L1175.87 892.15 L1182.63 887.15 L1189.38 882.15 L1196.14 877.15 L1202.9 872.14 L1209.66 867.14 L1216.41 862.14 L1223.17 857.14 L1229.93 852.14 L1236.68 847.14 L1243.44 842.13 L1250.2 837.13 L1256.95 832.13 L1263.71 827.13 L1270.47 822.12 L1277.23 817.12 L1283.98 812.12 L1290.74 807.11 L1297.5 802.11 L1304.25 797.11 L1311.01 792.1 L1317.77 787.1 L1324.52 782.09 L1331.28 777.09 L1338.04 772.08 L1344.79 767.07 L1351.55 762.06 L1358.31 757.06 L1365.07 752.05 L1371.82 747.04 L1378.58 742.02 L1385.34 737.01 L1392.09 731.99 L1398.85 726.98 L1405.61 721.96 L1412.36 716.94 L1419.12 711.91 L1425.88 706.88 L1432.64 701.85 L1439.39 696.82 L1446.15 691.78 L1452.91 686.73 L1459.66 681.68 L1466.42 676.62 L1473.18 671.55 L1479.93 666.48 L1486.69 661.39 L1493.45 656.29 L1500.21 651.18 L1506.96 646.05 L1513.72 640.9 L1520.48 635.74 L1527.23 630.55 L1533.99 625.33 L1540.75 620.08 L1547.5 614.8 L1554.26 609.49 L1561.02 604.13 L1567.77 598.73 L1574.53 593.28 L1581.29 587.78 L1588.05 582.22 L1594.8 576.6 L1601.56 570.93 L1608.32 565.18 L1615.07 559.37 L1621.83 553.49 L1628.59 547.54 L1635.34 541.53 L1642.1 535.44 L1648.86 529.29 L1655.62 523.07 L1662.37 516.79 L1669.13 510.44 L1675.89 504.04 L1682.64 497.59 L1689.4 491.08" fill="none" stroke="#000" stroke-width="6.4" stroke-linejoin="round" stroke-linecap="square"/>
<rect x="1129.3" y="471" width="586.7" height="457" fill="none" stroke="#000" stroke-width="3.6"/>
<text x="1049.8" y="505" font-family='"Liberation Serif", "DejaVu Serif", serif' font-size="45.83" textLength="46.8" lengthAdjust="spacingAndGlyphs" stroke="#000" stroke-width="0.25">10</text>
<text x="1095.9" y="487.6" font-family='"Liberation Serif", "DejaVu Serif", serif' font-size="32.08" textLength="19" lengthAdjust="spacingAndGlyphs" stroke="#000" stroke-width="0.25">2</text>
<text x="1049.8" y="621.2" font-family='"Liberation Serif", "DejaVu Serif", serif' font-size="45.83" textLength="46.8" lengthAdjust="spacingAndGlyphs" stroke="#000" stroke-width="0.25">10</text>
<text x="1095.9" y="603.8" font-family='"Liberation Serif", "DejaVu Serif", serif' font-size="32.08" textLength="19" lengthAdjust="spacingAndGlyphs" stroke="#000" stroke-width="0.25">0</text>
<text x="1021" y="737.4" font-family='"Liberation Serif", "DejaVu Serif", serif' font-size="45.83" textLength="46.8" lengthAdjust="spacingAndGlyphs" stroke="#000" stroke-width="0.25">10</text>
<text x="1068.3" y="723" font-family='"Liberation Serif", "DejaVu Serif", serif' font-size="32.08" textLength="26.7" lengthAdjust="spacingAndGlyphs" stroke="#000" stroke-width="0.25">−</text>
<text x="1095.9" y="720" font-family='"Liberation Serif", "DejaVu Serif", serif' font-size="32.08" textLength="19" lengthAdjust="spacingAndGlyphs" stroke="#000" stroke-width="0.25">2</text>
<text x="1021" y="853.6" font-family='"Liberation Serif", "DejaVu Serif", serif' font-size="45.83" textLength="46.8" lengthAdjust="spacingAndGlyphs" stroke="#000" stroke-width="0.25">10</text>
<text x="1068.3" y="839.2" font-family='"Liberation Serif", "DejaVu Serif", serif' font-size="32.08" textLength="26.7" lengthAdjust="spacingAndGlyphs" stroke="#000" stroke-width="0.25">−</text>
<text x="1095.9" y="836.2" font-family='"Liberation Serif", "DejaVu Serif", serif' font-size="32.08" textLength="19" lengthAdjust="spacingAndGlyphs" stroke="#000" stroke-width="0.25">4</text>
<text x="1123.4" y="975.1" font-family='"Liberation Serif", "DejaVu Serif", serif' font-size="45.83" textLength="46.8" lengthAdjust="spacingAndGlyphs" stroke="#000" stroke-width="0.25">10</text>
<text x="1169.2" y="959.1" font-family='"Liberation Serif", "DejaVu Serif", serif' font-size="32.08" textLength="19" lengthAdjust="spacingAndGlyphs" stroke="#000" stroke-width="0.25">0</text>
<text x="1256.85" y="975.1" font-family='"Liberation Serif", "DejaVu Serif", serif' font-size="45.83" textLength="46.8" lengthAdjust="spacingAndGlyphs" stroke="#000" stroke-width="0.25">10</text>
<text x="1302.65" y="959.1" font-family='"Liberation Serif", "DejaVu Serif", serif' font-size="32.08" textLength="19" lengthAdjust="spacingAndGlyphs" stroke="#000" stroke-width="0.25">1</text>
<text x="1390.3" y="975.1" font-family='"Liberation Serif", "DejaVu Serif", serif' font-size="45.83" textLength="46.8" lengthAdjust="spacingAndGlyphs" stroke="#000" stroke-width="0.25">10</text>
<text x="1436.1" y="959.1" font-family='"Liberation Serif", "DejaVu Serif", serif' font-size="32.08" textLength="19" lengthAdjust="spacingAndGlyphs" stroke="#000" stroke-width="0.25">2</text>
<text x="1523.75" y="975.1" font-family='"Liberation Serif", "DejaVu Serif", serif' font-size="45.83" textLength="46.8" lengthAdjust="spacingAndGlyphs" stroke="#000" stroke-width="0.25">10</text>
<text x="1569.55" y="959.1" font-family='"Liberation Serif", "DejaVu Serif", serif' font-size="32.08" textLength="19" lengthAdjust="spacingAndGlyphs" stroke="#000" stroke-width="0.25">3</text>
<text x="1657.2" y="975.1" font-family='"Liberation Serif", "DejaVu Serif", serif' font-size="45.83" textLength="46.8" lengthAdjust="spacingAndGlyphs" stroke="#000" stroke-width="0.25">10</text>
<text x="1703" y="959.1" font-family='"Liberation Serif", "DejaVu Serif", serif' font-size="32.08" textLength="19" lengthAdjust="spacingAndGlyphs" stroke="#000" stroke-width="0.25">4</text>
<text x="1233.6" y="1034.2" font-family='"Liberation Sans", "DejaVu Sans", sans-serif' font-size="42.5" textLength="59.5" lengthAdjust="spacingAndGlyphs">Ion</text>
<text x="1308.5" y="1034.2" font-family='"Liberation Sans", "DejaVu Sans", sans-serif' font-size="42.5" textLength="124.5" lengthAdjust="spacingAndGlyphs">energy</text>
<text x="1451.5" y="1044.97" font-family='"Liberation Serif", "DejaVu Serif", serif' font-size="68.29">/</text>
<text x="1472" y="1034.2" font-family='"Liberation Sans", "DejaVu Sans", sans-serif' font-size="42.5" textLength="91.5" lengthAdjust="spacingAndGlyphs">MeV</text>
<text x="1566.3" y="1044.97" font-family='"Liberation Serif", "DejaVu Serif", serif' font-size="68.29">/</text>
<text x="1587.5" y="1034.2" font-family='"Liberation Sans", "DejaVu Sans", sans-serif' font-size="42.5" textLength="23" lengthAdjust="spacingAndGlyphs">u</text>
<text transform="translate(989 794.5) rotate(-90)" font-family='"Liberation Serif", "DejaVu Serif", serif' font-size="45.83" font-style="italic" textLength="24" lengthAdjust="spacingAndGlyphs">x</text>
<text transform="translate(995.8 766.5) rotate(-90)" font-family='"Liberation Serif", "DejaVu Serif", serif' font-size="32.08" textLength="64.5" lengthAdjust="spacingAndGlyphs">max</text>
<text transform="translate(999.77 681) rotate(-90)" font-family='"Liberation Serif", "DejaVu Serif", serif' font-size="68.29">/</text>
<text transform="translate(989 660.5) rotate(-90)" font-family='"Liberation Sans", "DejaVu Sans", sans-serif' font-size="40.5" textLength="55.5" lengthAdjust="spacingAndGlyphs">cm</text>
<text x="1175.3" y="549" font-family='"Liberation Sans", "DejaVu Sans", sans-serif' font-size="44">d</text>
</g>
<g id="pe">
<path d="M539 1413.2 L546.5 1408 L1187 1408 L1187 1413.2 Z" fill="#FF0000" stroke="none" stroke-width="0" stroke-linejoin="round" stroke-linecap="butt"/>
<path d="M538.8 1413.2 L546.2 1408.2 L546.2 1413.2 Z" fill="#222" stroke="none" stroke-width="0" stroke-linejoin="round" stroke-linecap="butt"/>
<path d="M1185.4 1397.2 L1212.3 1410.6 L1185.4 1423.9 Z" fill="#FF0000" stroke="none" stroke-width="0" stroke-linejoin="round" stroke-linecap="butt"/>
<line x1="952.4" y1="1127.4" x2="953.6" y2="1410.6" stroke="#000" stroke-width="3.8"/>
<line x1="545.3" y1="1410.6" x2="952.3" y2="1131" stroke="#4472C4" stroke-width="5.2"/>
<line x1="527.4" y1="1395.2" x2="936.7" y2="1111.6" stroke="#000" stroke-width="2.4"/>
<line x1="512" y1="1373.4" x2="720.9" y2="1233.7" stroke="#000" stroke-width="2.4"/>
<line x1="501.6" y1="1362.4" x2="518.3" y2="1383.7" stroke="#000" stroke-width="2.4"/>
<line x1="520.3" y1="1386.4" x2="536.4" y2="1407.5" stroke="#000" stroke-width="2.4"/>
<line x1="712.7" y1="1220.9" x2="729.1" y2="1240.9" stroke="#000" stroke-width="2.4"/>
<line x1="928.8" y1="1100.9" x2="944.7" y2="1120.9" stroke="#000" stroke-width="2.4"/>
<line x1="721" y1="1233.7" x2="785" y2="1234.4" stroke="#000" stroke-width="2.3" stroke-dasharray="2.3 1.7"/>
<line x1="783" y1="1234.4" x2="953" y2="1237.2" stroke="#000" stroke-width="2.3"/>
<line x1="954" y1="1237.2" x2="1044" y2="1237.2" stroke="#000" stroke-width="2.3" stroke-dasharray="2.3 1.7"/>
<line x1="1044.5" y1="1237" x2="1073.8" y2="1237" stroke="#000" stroke-width="2.4"/>
<line x1="977.9" y1="1127.4" x2="982.2" y2="1410.6" stroke="#000" stroke-width="2.3"/>
<line x1="963.8" y1="1127.4" x2="992" y2="1127.4" stroke="#000" stroke-width="2.4"/>
<line x1="967.6" y1="1411.1" x2="995.8" y2="1411.1" stroke="#000" stroke-width="2.6"/>
<line x1="1057.3" y1="1240.5" x2="1059.4" y2="1410.6" stroke="#000" stroke-width="2.3"/>
<line x1="1050.9" y1="1411.1" x2="1079.1" y2="1411.1" stroke="#000" stroke-width="2.6"/>
<path d="M648.1 1345.3 C 664.5 1363, 676.5 1388, 659.6 1409.6" fill="none" stroke="#000" stroke-width="3.3"/>
<text x="513" y="1132.2" font-family='"Liberation Sans", "DejaVu Sans", sans-serif' font-size="44" textLength="24.5" lengthAdjust="spacingAndGlyphs">e</text>
<text x="791.5" y="1178.7" font-family='"Liberation Serif", "DejaVu Serif", serif' font-size="49" font-style="italic" textLength="31.2" lengthAdjust="spacingAndGlyphs" stroke="#000" stroke-width="0.8">R</text>
<text x="575.6" y="1277.8" font-family='"Liberation Serif", "DejaVu Serif", serif' font-size="49" font-style="italic" textLength="26.2" lengthAdjust="spacingAndGlyphs" stroke="#000" stroke-width="0.8">R</text>
<text x="602.7" y="1288.6" font-family='"Liberation Serif", "DejaVu Serif", serif' font-size="37" font-style="italic" textLength="16.6" lengthAdjust="spacingAndGlyphs" stroke="#000" stroke-width="0.5">a</text>
<text x="993.5" y="1301.6" font-family='"Liberation Serif", "DejaVu Serif", serif' font-size="49" font-style="italic" textLength="30.8" lengthAdjust="spacingAndGlyphs" stroke="#000" stroke-width="0.8">R</text>
<text x="1020.8" y="1313.5" font-family='"Liberation Serif", "DejaVu Serif", serif' font-size="37" font-style="italic" textLength="19.4" lengthAdjust="spacingAndGlyphs" stroke="#000" stroke-width="0.5">x</text>
<text x="1077.2" y="1332.2" font-family='"Liberation Serif", "DejaVu Serif", serif' font-size="52" font-style="italic" textLength="28.8" lengthAdjust="spacingAndGlyphs" stroke="#000" stroke-width="0.8">x</text>
<text x="623.6" y="1403" font-family='"Liberation Serif", "DejaVu Serif", serif' font-size="47" font-style="italic" textLength="28" lengthAdjust="spacingAndGlyphs" stroke="#000" stroke-width="0.4">θ</text>
<text x="745" y="1314.3" font-family='"Liberation Sans", "DejaVu Sans", sans-serif' font-size="38" textLength="22" lengthAdjust="spacingAndGlyphs" fill="#4472C4">e</text>
<text x="768.1" y="1299.65" font-family='"Liberation Sans", "DejaVu Sans", sans-serif' font-size="28" textLength="11.1" lengthAdjust="spacingAndGlyphs" fill="#4472C4">-</text>
<text x="1106.3" y="1453.3" font-family='"Liberation Sans", "DejaVu Sans", sans-serif' font-size="44" textLength="65" lengthAdjust="spacingAndGlyphs" fill="#FF0000">Ion</text>
</g>
</svg>
</body></html>
